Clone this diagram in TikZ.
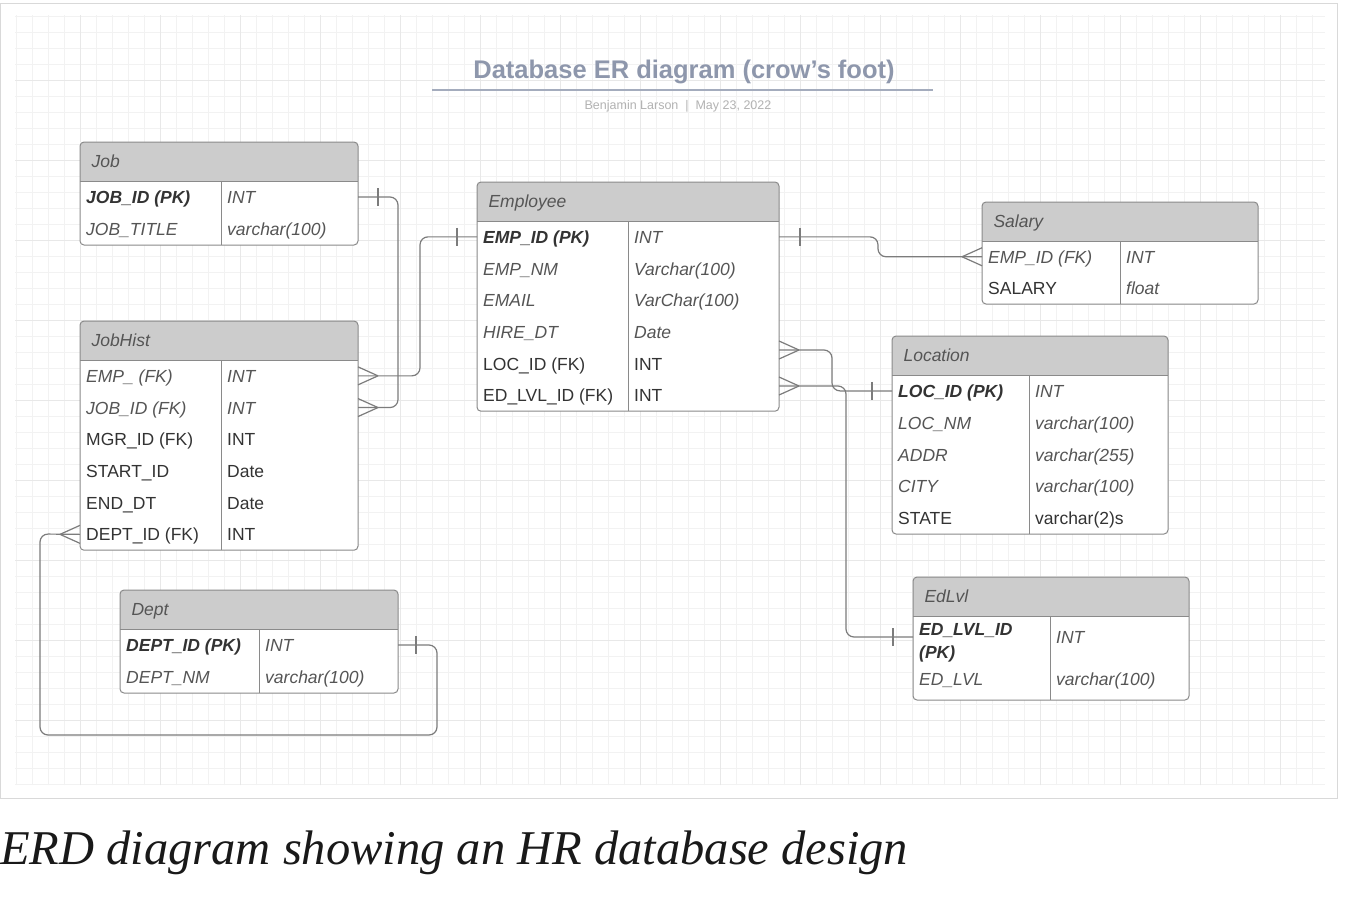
\documentclass[tikz,border=0pt]{standalone}
\usepackage{fontspec}
\setmainfont{Liberation Sans}
\newfontfamily\capfont{Liberation Serif}
\usetikzlibrary{calc}
\definecolor{hdr}{HTML}{CCCCCC}
\definecolor{edge}{HTML}{8A8A8A}
\definecolor{txt}{HTML}{333333}
\definecolor{itx}{HTML}{555555}
\definecolor{ttl}{HTML}{8E97AC}
\tikzset{
  conn/.style={draw=edge!90!black,line width=1.2pt},
  up/.style={font=\fontsize{17.5}{19}\selectfont,text=txt},
  it/.style={font=\fontsize{17.5}{19}\selectfont\itshape,text=itx},
  bi/.style={font=\fontsize{17.5}{19}\selectfont\bfseries\itshape,text=txt},
}
\newcommand\ertable[9]{%
  \fill[white] (#2,#3) rectangle (#4,#3+39+#9*#7);
  \fill[hdr] (#2,#3+39) [rounded corners=4pt]-- (#2,#3) -- (#4,#3) [sharp corners]-- (#4,#3+39) -- cycle;
  \draw[edge,line width=1pt,rounded corners=4pt] (#2,#3) rectangle (#4,#3+39+#9*#7);
  \draw[edge,line width=1pt] (#2,#3+39) -- (#4,#3+39) (#5,#3+39) -- (#5,#3+39+#9*#7);
  \node[it,anchor=base west] (#1) at (#2+8,#3+25.5) {#6};
  \foreach \l/\r/\s/\t [count=\i] in {#8} {
    \node[\s,anchor=base west,inner sep=1pt] (#1-\i-l) at (#2+5,#3+39+\i*#7-0.5*#7+6.5) {\l};
    \node[\t,anchor=base west,inner sep=1pt] (#1-\i-r) at (#5+5,#3+39+\i*#7-0.5*#7+6.5) {\r};
    \coordinate (#1-\i-w) at (#2,#3+39+\i*#7-0.5*#7);
    \coordinate (#1-\i-e) at (#4,#3+39+\i*#7-0.5*#7);
  }}
\newcommand\crow[2]{\draw[conn] ($(#1)+(20*#2,0)$) -- ($(#1)+(0,-9)$) ($(#1)+(20*#2,0)$) -- ($(#1)+(0,9)$);}
\newcommand\tick[2]{\draw[conn] ($(#1)+(#2,-9)$) -- ($(#1)+(#2,9)$);}
\begin{document}
\begin{tikzpicture}[x=1pt,y=-1pt]
\useasboundingbox (0,0) rectangle (1358,911);
\fill[white] (0,0) rectangle (1358,911);
% grid
\draw[black!5,line width=0.6pt] (15,15) grid[step=16pt] (1325,785);
\draw[black!9,line width=0.8pt] (15,15) grid[step=80pt] (1325,785);
\draw[black!15,line width=1pt] (0,3) rectangle (1337,798);
% title
\node[font=\fontsize{25.5}{27}\selectfont\bfseries,text=ttl] (title) at (684,72) {Database ER diagram (crow's foot)};
\draw[ttl!80,line width=2pt] (432,90) -- (933,90);
\node[font=\fontsize{12.5}{14}\selectfont,text=black!30] (sub) at (678,106) {Benjamin Larson \ | \ May 23, 2022};
% tables
\ertable{job}{80}{142}{358}{221}{Job}{32}{JOB\_ID (PK)/INT/bi/it, JOB\_TITLE/varchar(100)/it/it}{2}
\ertable{emp}{477}{182}{779}{628}{Employee}{31.7}{EMP\_ID (PK)/INT/bi/it, EMP\_NM/Varchar(100)/it/it, EMAIL/VarChar(100)/it/it, HIRE\_DT/Date/it/it, LOC\_ID (FK)/INT/up/up, ED\_LVL\_ID (FK)/INT/up/up}{6}
\ertable{sal}{982}{202}{1258}{1120}{Salary}{31.5}{EMP\_ID (FK)/INT/it/it, SALARY/float/up/it}{2}
\ertable{jh}{80}{321}{358}{221}{JobHist}{31.7}{EMP\_ (FK)/INT/it/it, JOB\_ID (FK)/INT/it/it, MGR\_ID (FK)/INT/up/up, START\_ID/Date/up/up, END\_DT/Date/up/up, DEPT\_ID (FK)/INT/up/up}{6}
\ertable{loc}{892}{336}{1168}{1029}{Location}{31.8}{LOC\_ID (PK)/INT/bi/it, LOC\_NM/varchar(100)/it/it, ADDR/varchar(255)/it/it, CITY/varchar(100)/it/it, STATE/varchar(2)s/up/up}{5}
\ertable{dept}{120}{590}{398}{259}{Dept}{32}{DEPT\_ID (PK)/INT/bi/it, DEPT\_NM/varchar(100)/it/it}{2}
\ertable{ed}{913}{577}{1189}{1050}{EdLvl}{42}{{}/INT/bi/it, ED\_LVL/varchar(100)/it/it}{2}
\node[bi,anchor=base west,inner sep=1pt] (edpk1) at (918,635) {ED\_LVL\_ID};
\node[bi,anchor=base west,inner sep=1pt] (edpk2) at (918,658) {(PK)};
\coordinate (empA) at (779,350);
\coordinate (empB) at (779,386);
% connectors
\draw[conn,rounded corners=8pt] (job-1-e) -- ++(40,0) |- (jh-2-e);
\tick{job-1-e}{20}\crow{jh-2-e}{1}
\draw[conn,rounded corners=8pt] (emp-1-w) -- ++(-57,0) |- (jh-1-e);
\tick{emp-1-w}{-20}\crow{jh-1-e}{1}
\draw[conn,rounded corners=8pt] (emp-1-e) -- ++(99,0) |- (sal-1-w);
\tick{emp-1-e}{21}\crow{sal-1-w}{-1}
\draw[conn,rounded corners=8pt] (empA) -- ++(53,0) |- (loc-1-w);
\crow{empA}{1}\tick{loc-1-w}{-20}
\draw[conn,rounded corners=8pt] (empB) -- ++(67,0) |- (ed-1-w);
\crow{empB}{1}\tick{ed-1-w}{-20}
\draw[conn,rounded corners=8pt] (jh-6-w) -- (40,534) -- (40,735) -- (437,735) |- (dept-1-e);
\crow{jh-6-w}{-1}\tick{dept-1-e}{18}
% caption
\node[anchor=west,inner sep=0pt,font=\capfont\fontsize{48.5}{52}\selectfont\itshape,text=black!90] (cap) at (0,853) {ERD diagram showing an HR database design};
\end{tikzpicture}
\end{document}
